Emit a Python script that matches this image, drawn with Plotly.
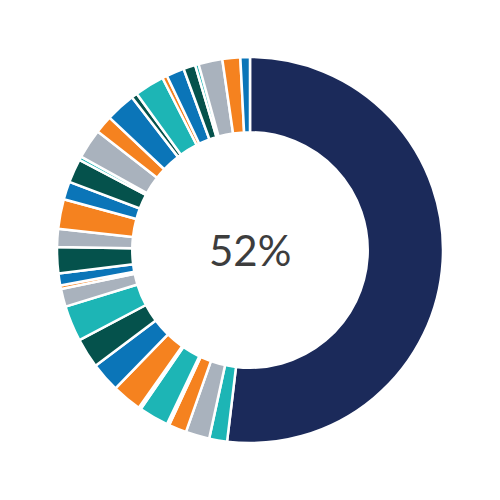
import plotly.graph_objects as go

navy, teal, gray, orange, blue, dgreen = "#1b2a5a", "#1db5b5", "#a9b2bd", "#f5821f", "#0b75b8", "#05524c"

# slice values (%) in clockwise order starting at 12 o'clock
values = [52, 1.5, 2, 1.5, 0.2, 2.5, 0.2, 2.5, 2.5, 2.5, 3, 1.5, 0.3, 1, 2.2, 1.5, 2.5,
          1.5, 2, 0.3, 2.5, 1.5, 2.5, 0.5, 2.5, 0.4, 1.5, 1, 0.3, 2, 1.5, 0.8]
colors = [navy, teal, gray, orange, gray, teal, gray, orange, blue, dgreen, teal, gray, orange,
          blue, dgreen, gray, orange, blue, dgreen, teal, gray, orange, blue, dgreen, teal,
          orange, blue, dgreen, teal, gray, orange, blue]
labels = ["s%d" % i for i in range(len(values))]

fig = go.Figure(go.Pie(labels=labels, values=values, hole=0.61, sort=False,
                       direction="clockwise", rotation=0,
                       marker=dict(colors=colors, line=dict(color="white", width=2.5)),
                       textinfo="none", hoverinfo="none"))
fig.update_layout(width=500, height=500, showlegend=False,
                  margin=dict(l=49, r=65, t=49, b=65), paper_bgcolor="white",
                  annotations=[dict(text="52%", x=0.5, y=0.5, showarrow=False,
                                    font=dict(size=42, color="#3d3d3d", family="Lato"))])
fig.write_html("out.html")
